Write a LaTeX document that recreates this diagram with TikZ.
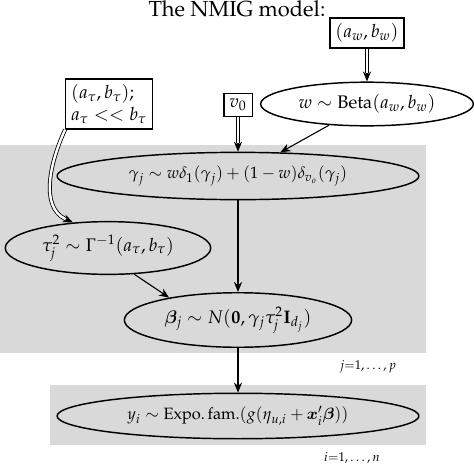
\documentclass[tikz,border=0pt]{standalone}
\usepackage[T1]{fontenc}
\usepackage{amsmath, amssymb, bm}
\usepackage{mathpazo}
\usetikzlibrary{shapes.geometric,arrows.meta,positioning}
\definecolor{plategray}{gray}{0.85}

\begin{document}
\begin{tikzpicture}[%
    x=0.55pt, y=-0.55pt, >={Stealth[length=5.5pt,width=4.5pt]},
    hyper/.style  = {draw, rectangle, line width=0.7pt, inner sep=3pt},
    rv/.style     = {draw, ellipse, line width=0.8pt, inner sep=0pt},
    edge/.style   = {->, line width=0.6pt},
    dbl/.style    = {double, double distance=1.3pt, line width=0.45pt, shorten >=4.5pt},
    plate/.style  = {fill=plategray, draw=none},
    idx/.style    = {font=\scriptsize, inner sep=0pt}]

  \useasboundingbox (0,0) rectangle (474,464);
  % plates
  \fill[plate] (0,145) rectangle (426,353);
  \fill[plate] (50,385) rectangle (426,445);
  \node[idx] (jlab) at (368,367) {$j{=}1,\ldots,p$};
  \node[idx] (ilab) at (352,458) {$i{=}1,\ldots,n$};

  \node[font=\large] (title) at (237,9) {The NMIG model:};
  \node[hyper] (awbw) at (367,33) {$(a_w,b_w)$};
  \node[hyper] (v0) at (238,105) {$v_0$};
  \node[hyper, align=left] (tauprior) at (109,104) {$(a_\tau,b_\tau)$;\\ $a_\tau << b_\tau$};
  \node[rv, minimum width=117pt, minimum height=24pt] (wbeta) at (367,104) {$w\sim\mathrm{Beta}(a_w,b_w)$};
  \node[rv, font=\small, minimum width=199pt, minimum height=26pt] (gamma) at (238,176) {$\gamma_j\sim w\delta_1(\gamma_j)+(1-w)\delta_{v_o}(\gamma_j)$};
  \node[rv, minimum width=113pt, minimum height=29pt] (tau) at (108,248) {$\tau_j^2\sim\Gamma^{-1}(a_\tau,b_\tau)$};
  \node[rv, minimum width=125pt, minimum height=30pt] (beta) at (238,320) {$\bm{\beta}_j\sim N(\mathbf{0},\gamma_j\tau_j^2\mathbf{I}_{d_j})$};
  \node[rv, font=\small, minimum width=199pt, minimum height=25pt] (yi) at (238,416) {$y_i\sim\text{Expo.\,fam.}(g(\eta_{u,i}+\bm{x}_i'\bm{\beta}))$};

  % double arrows from the hyperparameters
  \draw[edge] (awbw) -- (wbeta);
  \draw[dbl] (awbw) -- (wbeta);
  \draw[edge] (v0) -- (gamma);
  \draw[dbl] (v0) -- (gamma);
  \draw[edge] (tauprior.south west) to[out=245,in=155] (tau.144);
  \draw[dbl] (tauprior.south west) to[out=245,in=155] (tau.144);

  \draw[edge] (wbeta) -- (gamma);
  \draw[edge] (gamma) -- (beta);
  \draw[edge] (tau.-45) -- (beta.162);
  \draw[edge] (beta) -- (yi);

\end{tikzpicture}
\end{document}
